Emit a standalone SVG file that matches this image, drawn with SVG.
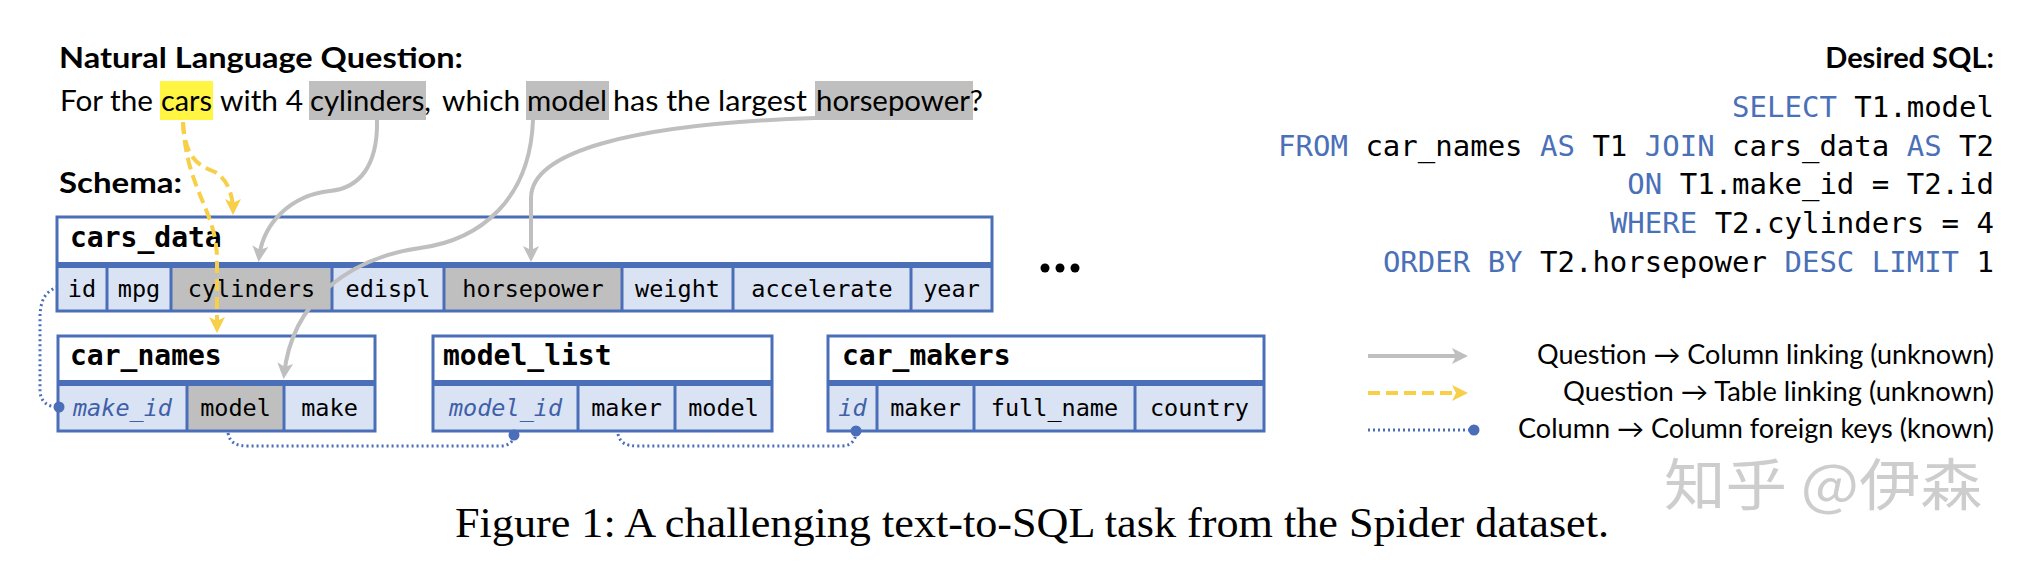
<svg xmlns="http://www.w3.org/2000/svg" width="2028" height="564" viewBox="0 0 2028 564">
<style>
.sans{font-family:Lato,"Open Sans","Liberation Sans",sans-serif;fill:#000}
.b{font-weight:bold}
.mono{font-family:"DejaVu Sans Mono","Liberation Mono",monospace;fill:#000}
.title{font-family:"DejaVu Sans Mono","Liberation Mono",monospace;font-weight:bold;font-size:28px;fill:#000}
.col{font-family:"DejaVu Sans Mono","Liberation Mono",monospace;font-size:23.5px;fill:#000;text-anchor:middle}
.key{font-style:italic;fill:#3f60a8}
.kw{fill:#4a70b8}
.frame{fill:none;stroke:#4a6fb8;stroke-width:3}
.sep{stroke:#4a6fb8;stroke-width:6}
.div{stroke:#4a6fb8;stroke-width:3}
.cell{fill:#dae3f3}
.hl{fill:#bfbfbf}
.gray{fill:none;stroke:#bfbfbf;stroke-width:4}
.yel{fill:none;stroke:#f7cf48;stroke-width:4;stroke-dasharray:12 6}
.dot{fill:none;stroke:#4a6fb8;stroke-width:3;stroke-dasharray:2 3}
.dotend{fill:#4a6fb8}
</style>
<defs>
<marker id="ga" viewBox="0 0 16 16" markerWidth="16" markerHeight="16" refX="12" refY="8" orient="auto" markerUnits="userSpaceOnUse">
<path d="M0,0 L16,8 L0,16 L4,8 z" fill="#bfbfbf"/>
</marker>
<marker id="ya" viewBox="0 0 16 16" markerWidth="16" markerHeight="16" refX="12" refY="8" orient="auto" markerUnits="userSpaceOnUse">
<path d="M0,0 L16,8 L0,16 L4,8 z" fill="#f7cf48"/>
</marker>
</defs>

<g id="question">
<text class="sans b" x="59" y="68" font-size="29" textLength="404" lengthAdjust="spacingAndGlyphs">Natural Language Question:</text>
<rect x="160" y="81" width="53" height="39" fill="#fff542"/>
<rect x="309" y="81" width="117" height="39" class="hl"/>
<rect x="526" y="81" width="83" height="39" class="hl"/>
<rect x="815" y="81" width="158" height="39" class="hl"/>
<text class="sans" x="60" y="111" font-size="29" textLength="93" lengthAdjust="spacingAndGlyphs">For the</text>
<text class="sans" x="161" y="111" font-size="29" textLength="51" lengthAdjust="spacingAndGlyphs">cars</text>
<text class="sans" x="220" y="111" font-size="29" textLength="83" lengthAdjust="spacingAndGlyphs">with 4</text>
<text class="sans" x="310" y="111" font-size="29" textLength="121" lengthAdjust="spacingAndGlyphs">cylinders,</text>
<text class="sans" x="442" y="111" font-size="29" textLength="78" lengthAdjust="spacingAndGlyphs">which</text>
<text class="sans" x="527" y="111" font-size="29" textLength="80" lengthAdjust="spacingAndGlyphs">model</text>
<text class="sans" x="613" y="111" font-size="29" textLength="194" lengthAdjust="spacingAndGlyphs">has the largest</text>
<text class="sans" x="816" y="111" font-size="29" textLength="167" lengthAdjust="spacingAndGlyphs">horsepower?</text>
<text class="sans b" x="59" y="193" font-size="29" textLength="123" lengthAdjust="spacingAndGlyphs">Schema:</text>
</g>

<g id="sql">
<text class="sans b" x="1994" y="68" font-size="29" text-anchor="end">Desired SQL:</text>
<text class="mono" x="1994" y="117" font-size="29" text-anchor="end"><tspan class="kw">SELECT</tspan> T1.model</text>
<text class="mono" x="1994" y="156" font-size="29" text-anchor="end"><tspan class="kw">FROM</tspan> car_names <tspan class="kw">AS</tspan> T1 <tspan class="kw">JOIN</tspan> cars_data <tspan class="kw">AS</tspan> T2</text>
<text class="mono" x="1994" y="194" font-size="29" text-anchor="end"><tspan class="kw">ON</tspan> T1.make_id = T2.id</text>
<text class="mono" x="1994" y="233" font-size="29" text-anchor="end"><tspan class="kw">WHERE</tspan> T2.cylinders = 4</text>
<text class="mono" x="1994" y="272" font-size="29" text-anchor="end"><tspan class="kw">ORDER BY</tspan> T2.horsepower <tspan class="kw">DESC LIMIT</tspan> 1</text>
</g>

<g id="cars_data">
<rect x="57" y="265" width="935" height="46" class="cell"/>
<rect x="171" y="265" width="161" height="46" class="hl"/>
<rect x="444" y="265" width="178" height="46" class="hl"/>
<rect x="57" y="217" width="935" height="48" fill="#fff"/>
<line x1="107" y1="265" x2="107" y2="311" class="div"/>
<line x1="171" y1="265" x2="171" y2="311" class="div"/>
<line x1="332" y1="265" x2="332" y2="311" class="div"/>
<line x1="444" y1="265" x2="444" y2="311" class="div"/>
<line x1="622" y1="265" x2="622" y2="311" class="div"/>
<line x1="733" y1="265" x2="733" y2="311" class="div"/>
<line x1="911" y1="265" x2="911" y2="311" class="div"/>
<line x1="57" y1="265" x2="992" y2="265" class="sep"/>
<rect x="57" y="217" width="935" height="94" class="frame"/>
<text class="title" x="70" y="247">cars_data</text>
<text class="col" x="82" y="297">id</text>
<text class="col" x="139" y="297">mpg</text>
<text class="col" x="251.5" y="297">cylinders</text>
<text class="col" x="388" y="297">edispl</text>
<text class="col" x="533" y="297">horsepower</text>
<text class="col" x="677.5" y="297">weight</text>
<text class="col" x="822" y="297">accelerate</text>
<text class="col" x="951.5" y="297">year</text>
</g>

<g id="car_names">
<rect x="58" y="383" width="317" height="48" class="cell"/>
<rect x="187" y="383" width="97" height="48" class="hl"/>
<rect x="58" y="336" width="317" height="47" fill="#fff"/>
<line x1="187" y1="383" x2="187" y2="431" class="div"/>
<line x1="284" y1="383" x2="284" y2="431" class="div"/>
<line x1="58" y1="383" x2="375" y2="383" class="sep"/>
<rect x="58" y="336" width="317" height="95" class="frame"/>
<text class="title" x="70" y="365">car_names</text>
<text class="col key" x="122.5" y="416">make_id</text>
<text class="col" x="235.5" y="416">model</text>
<text class="col" x="329.5" y="416">make</text>
</g>

<g id="model_list">
<rect x="433" y="383" width="339" height="48" class="cell"/>
<rect x="433" y="336" width="339" height="47" fill="#fff"/>
<line x1="578" y1="383" x2="578" y2="431" class="div"/>
<line x1="675" y1="383" x2="675" y2="431" class="div"/>
<line x1="433" y1="383" x2="772" y2="383" class="sep"/>
<rect x="433" y="336" width="339" height="95" class="frame"/>
<text class="title" x="443" y="365">model_list</text>
<text class="col key" x="505.5" y="416">model_id</text>
<text class="col" x="626.5" y="416">maker</text>
<text class="col" x="723.5" y="416">model</text>
</g>

<g id="car_makers">
<rect x="828" y="383" width="436" height="48" class="cell"/>
<rect x="828" y="336" width="436" height="47" fill="#fff"/>
<line x1="877" y1="383" x2="877" y2="431" class="div"/>
<line x1="974" y1="383" x2="974" y2="431" class="div"/>
<line x1="1135" y1="383" x2="1135" y2="431" class="div"/>
<line x1="828" y1="383" x2="1264" y2="383" class="sep"/>
<rect x="828" y="336" width="436" height="95" class="frame"/>
<text class="title" x="842" y="365">car_makers</text>
<text class="col key" x="852.5" y="416">id</text>
<text class="col" x="925.5" y="416">maker</text>
<text class="col" x="1054.5" y="416">full_name</text>
<text class="col" x="1199.5" y="416">country</text>
</g>

<g id="ellipsis">
<circle cx="1045" cy="268" r="4.5" fill="#000"/>
<circle cx="1060" cy="268" r="4.5" fill="#000"/>
<circle cx="1075" cy="268" r="4.5" fill="#000"/>
</g>

<g id="connectors">
<path class="gray" marker-end="url(#ga)" d="M377,120 C378,165 360,188 330,191 C292,195 263,222 259,258"/>
<path class="gray" marker-end="url(#ga)" d="M533,120 C530,200 480,240 420,248 C350,258 292,300 284,375"/>
<path class="gray" marker-end="url(#ga)" d="M815,118 C630,124 531,152 531,198 L531,258"/>
<path class="yel" marker-end="url(#ya)" d="M183,122 C185,160 200,166 215,172 C228,180 233,195 233,211"/>
<path class="yel" marker-end="url(#ya)" d="M183,122 C186,190 217,210 217,260 L217,329"/>
<path class="dot" d="M58,287 C44,291 40,303 40,318 L40,390 C40,401 47,407 58,407"/>
<circle class="dotend" cx="59" cy="407" r="5.5"/>
<path class="dot" d="M228,433 C230,443 236,446 248,446 L500,446 C508,446 513,442 514,436"/>
<circle class="dotend" cx="514" cy="435" r="5.5"/>
<path class="dot" d="M618,434 C620,443 626,446 638,446 L842,446 C851,446 856,440 856,432"/>
<circle class="dotend" cx="856" cy="431" r="5.5"/>
</g>

<g id="legend">
<line x1="1368" y1="356" x2="1464" y2="356" class="gray" marker-end="url(#ga)"/>
<line x1="1368" y1="393" x2="1464" y2="393" class="yel" marker-end="url(#ya)"/>
<line x1="1368" y1="430" x2="1470" y2="430" class="dot"/>
<circle class="dotend" cx="1474" cy="430" r="5.5"/>
<text class="sans" x="1994" y="364" font-size="26" text-anchor="end" textLength="457" lengthAdjust="spacingAndGlyphs">Question → Column linking (unknown)</text>
<text class="sans" x="1994" y="401" font-size="26" text-anchor="end" textLength="431" lengthAdjust="spacingAndGlyphs">Question → Table linking (unknown)</text>
<text class="sans" x="1994" y="438" font-size="26" text-anchor="end" textLength="476" lengthAdjust="spacingAndGlyphs">Column → Column foreign keys (known)</text>
</g>

<text x="1664" y="505" font-family="'Noto Sans CJK SC',sans-serif" font-size="56" fill="#c4c4c4" fill-opacity="0.85" textLength="318" lengthAdjust="spacingAndGlyphs">知乎 @伊森</text>
<text x="455" y="537" font-family="'Liberation Serif',serif" font-size="42" fill="#000" textLength="1154" lengthAdjust="spacingAndGlyphs">Figure 1: A challenging text-to-SQL task from the Spider dataset.</text>
</svg>
